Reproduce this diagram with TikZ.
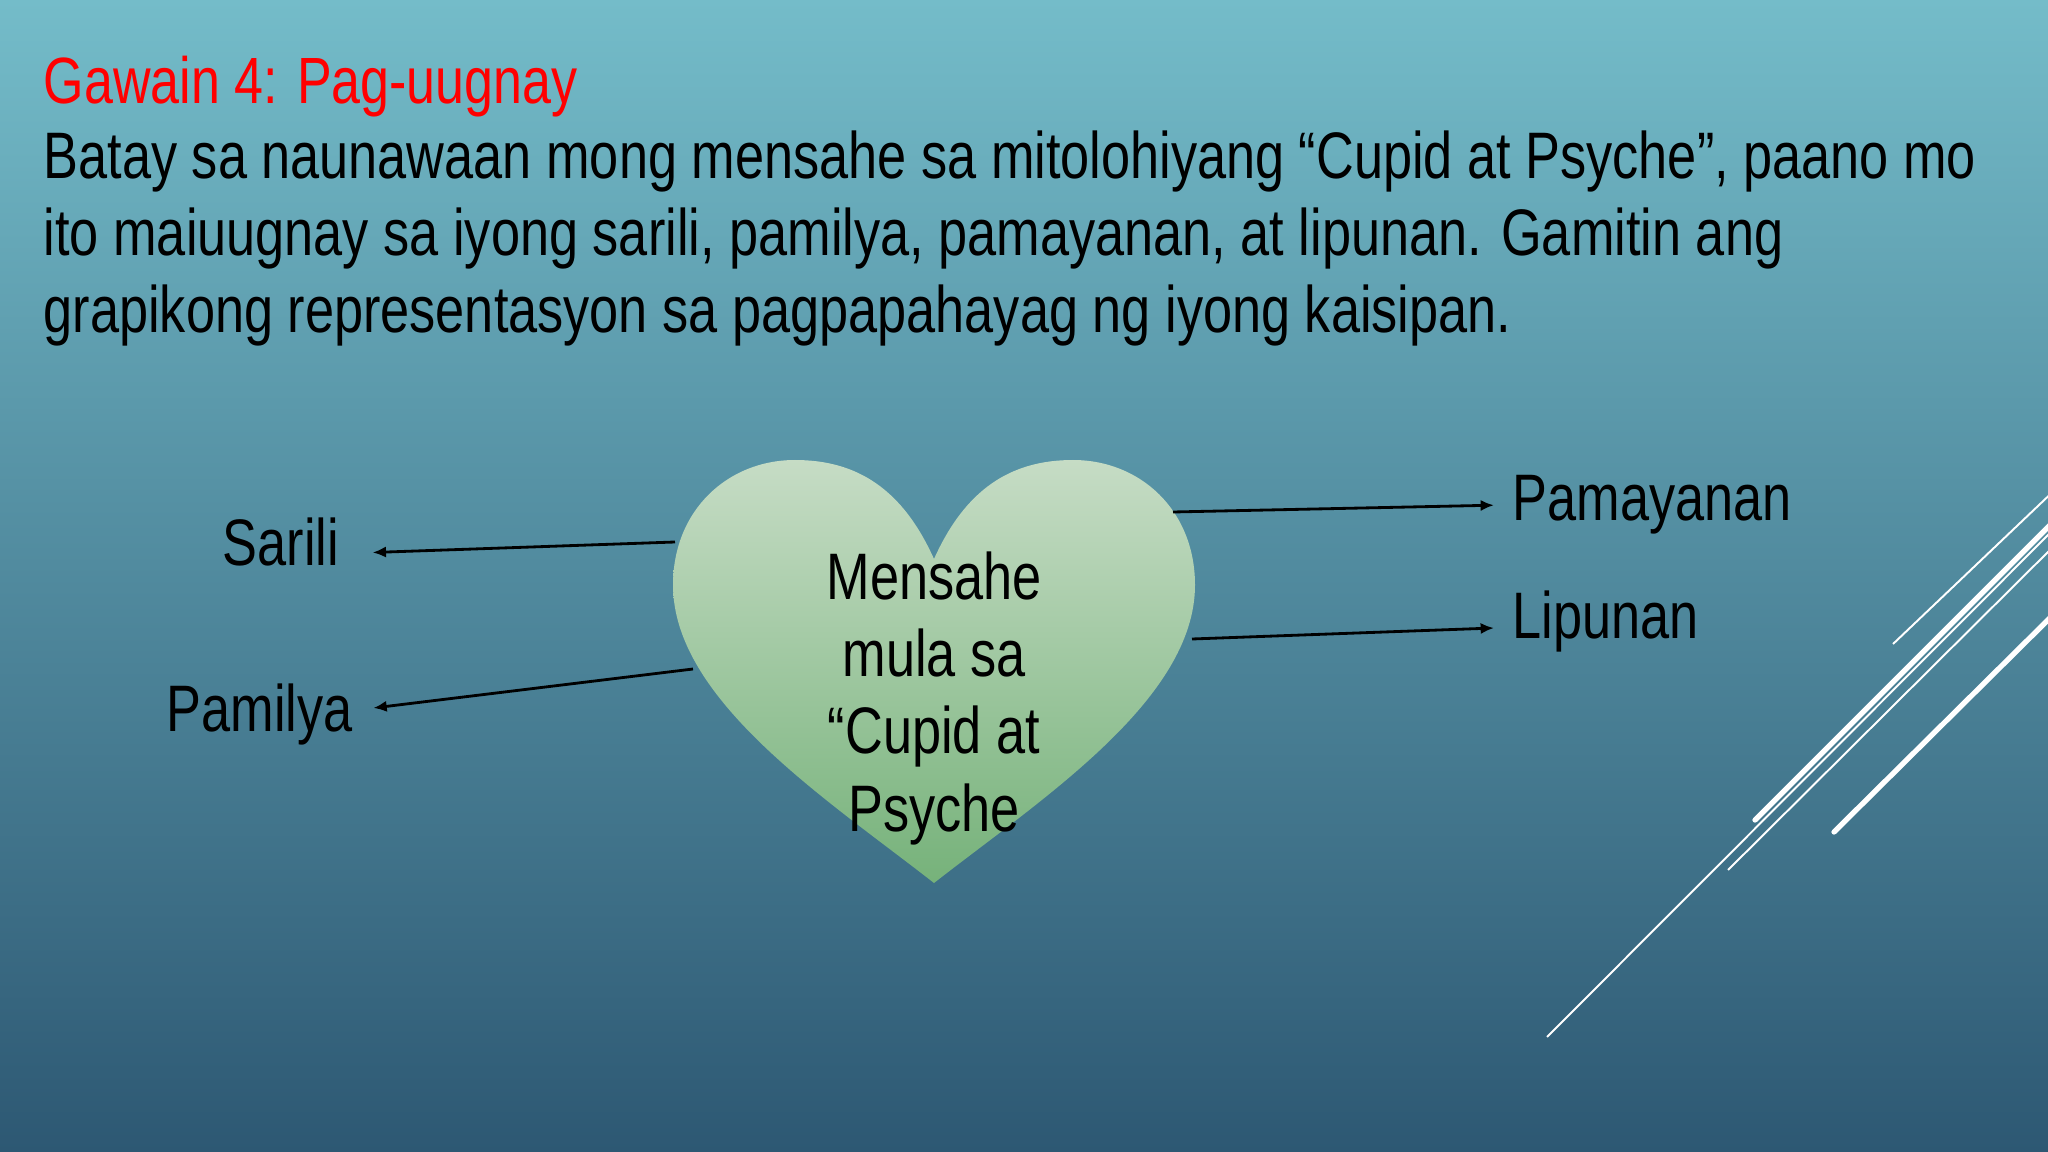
\documentclass[tikz,border=0pt]{standalone}
\usepackage{fontspec}
\setmainfont[FakeStretch=0.795]{Liberation Sans}
\usetikzlibrary{arrows.meta}
\definecolor{bgtop}{HTML}{74BCC9}
\definecolor{bgmid}{HTML}{5391A6}
\definecolor{bgbot}{HTML}{2D5873}
\definecolor{hearttop}{HTML}{C6DCC5}
\definecolor{heartbot}{HTML}{76B27A}

\begin{document}
\begin{tikzpicture}[x=0.01cm, y=-0.01cm,
    lbl/.style={font=\fontsize{18.7}{21.9}\selectfont, inner sep=0pt, anchor=base west},
    link/.style={-{Latex[length=3.8pt, width=3.2pt]}, line width=0.8pt},
    thinline/.style={white, line width=0.55pt},
    thickline/.style={white, line width=1.5pt, line cap=round}]
  \useasboundingbox (0,0) rectangle (2048,1152);
  % background
  \shade[top color=bgtop, middle color=bgmid, bottom color=bgbot] (0,0) rectangle (2048,1152);
  \begin{scope}
    \clip (0,0) rectangle (2048,1152);
    \draw[thinline] (1893,644) -- (2060,485);
    \draw[thickline] (1755,820) -- (2060,515);
    \draw[thinline] (1547,1037) -- (2060,523);
    \draw[thinline] (1728,870) -- (2060,540);
    \draw[thickline] (1834,832) -- (2060,608);
  \end{scope}
  % heading
  \begin{scope}[every node/.style={inner sep=0pt, anchor=base west}]
    \node[font=\fontsize{18.6}{22}\selectfont, text=red] (title) at (43,104) {Gawain 4: Pag-uugnay};
    \node[font=\fontsize{18.7}{21.9}\selectfont, align=left] (intro) at (43,333)
      {Batay sa naunawaan mong mensahe sa mitolohiyang “Cupid at Psyche”, paano mo\\
       ito maiuugnay sa iyong sarili, pamilya, pamayanan, at lipunan. Gamitin ang\\
       grapikong representasyon sa pagpapahayag ng iyong kaisipan.};
  \end{scope}
  % heart
  \shade[top color=hearttop, bottom color=heartbot]
    (934,559) .. controls (965,490) and (1010,460) .. (1073,460)
    .. controls (1140,460) and (1195,510) .. (1195,585)
    .. controls (1195,700) and (1040,800) .. (934,883)
    .. controls (828,800) and (673,700) .. (673,585)
    .. controls (673,510) and (728,460) .. (795,460)
    .. controls (858,460) and (903,490) .. (934,559) -- cycle;
  \node[font=\fontsize{18.7}{21.9}\selectfont, align=center, inner sep=0pt, anchor=base] (msg) at (934,831)
    {Mensahe\\mula sa\\“Cupid at\\Psyche};
  \coordinate (hsarili) at (675,542);
  \coordinate (hpamilya) at (693,669);
  \coordinate (hpamayanan) at (1173,512);
  \coordinate (hlipunan) at (1192,639);
  % labels
  \node[lbl] (sarili) at (222,565) {Sarili};
  \node[lbl] (pamilya) at (166,731) {Pamilya};
  \node[lbl] (pamayanan) at (1512,521) {Pamayanan};
  \node[lbl] (lipunan) at (1512,639) {Lipunan};
  \path (hsarili) edge[link] ([xshift=0.33cm, yshift=-0.11cm]sarili.east);
  \path (hpamilya) edge[link] ([xshift=0.20cm, yshift=0.06cm]pamilya.east);
  \path (hpamayanan) edge[link] ([xshift=-0.18cm]pamayanan.west);
  \path (hlipunan) edge[link] ([xshift=-0.18cm, yshift=-0.06cm]lipunan.west);
\end{tikzpicture}
\end{document}
